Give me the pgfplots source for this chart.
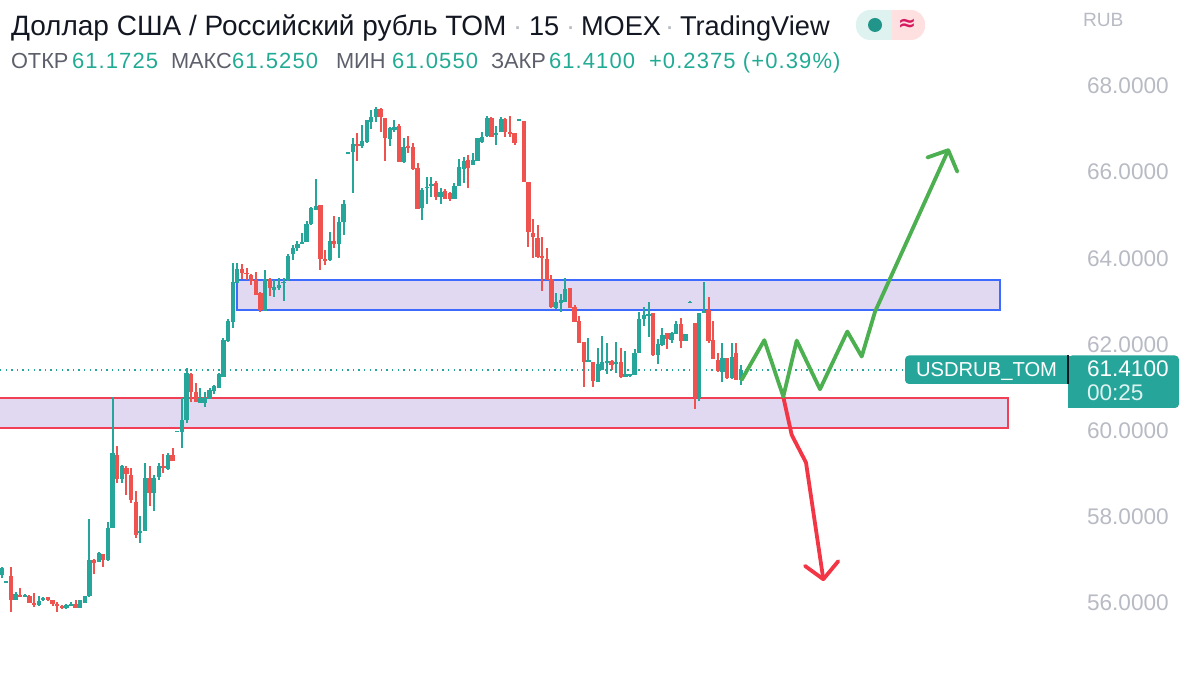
\documentclass[border=0pt]{standalone}
\usepackage{fontspec}
\setmainfont{Liberation Sans}
\newfontfamily\dejavu{DejaVu Sans}
\newfontfamily\spaced[LetterSpace=5]{Liberation Sans}
\usepackage{pgfplots}
\usepackage{pgfplotstable}
\pgfplotsset{compat=1.18}
\definecolor{upc}{HTML}{26A69A}
\definecolor{downc}{HTML}{EF5350}
\definecolor{zone}{HTML}{E1D9F1}
\definecolor{zblue}{HTML}{3D6BFF}
\definecolor{zred}{HTML}{F23F55}
\definecolor{pgreen}{HTML}{4CAF50}
\definecolor{pred}{HTML}{F23645}
\definecolor{axgray}{HTML}{B8BAC4}
\definecolor{txgray}{HTML}{5D606B}
\definecolor{txdark}{HTML}{131722}
\definecolor{valc}{HTML}{22AB94}
\pgfplotstableread{
i t b h l
0 56.81 56.64 56.84 56.57
1 56.50 56.48 56.52 56.46
3 56.21 56.07 56.26 56.06
5 56.19 56.15 56.21 56.13
8 56.05 55.95 56.17 55.94
9 56.12 56.06 56.15 56.05
14 55.95 55.89 55.97 55.87
15 55.97 55.95 56.03 55.93
17 56.06 55.89 56.07 55.88
18 56.16 56.01 56.17 56.00
19 57.00 56.15 57.94 56.13
21 57.15 56.94 57.19 56.94
23 57.73 57.00 57.89 56.98
24 59.48 57.73 60.79 57.73
26 59.17 58.87 59.20 58.78
30 57.68 57.62 58.01 57.39
31 58.91 57.68 59.24 57.66
33 58.90 58.56 58.97 58.14
34 59.18 58.92 59.24 58.86
36 59.44 59.10 59.49 59.09
38 59.99 59.97 60.00 59.96
39 60.25 59.96 60.75 59.59
40 61.34 60.25 61.45 60.18
43 60.76 60.64 60.99 60.64
44 60.76 60.64 60.90 60.55
45 60.94 60.73 60.99 60.73
46 61.04 60.92 61.06 60.85
47 61.31 60.99 61.34 60.99
48 62.10 61.24 62.15 61.24
49 62.55 62.08 62.59 62.06
50 63.45 62.52 63.89 62.38
51 63.75 63.43 63.89 63.43
57 63.52 62.78 63.73 62.78
59 63.33 63.26 63.50 63.10
60 63.38 63.31 63.54 63.26
61 63.45 63.43 63.54 63.01
62 64.05 63.50 64.10 63.47
63 64.24 64.10 64.31 63.96
64 64.33 64.24 64.40 64.17
65 64.38 64.33 64.59 64.33
66 64.80 64.38 64.87 64.38
67 65.17 64.80 65.19 64.77
68 65.21 65.12 65.84 65.12
71 64.40 63.96 64.61 63.94
73 64.84 64.33 64.96 64.01
74 65.26 64.84 65.35 64.54
75 66.47 66.44 66.47 66.44
76 66.65 66.47 66.79 65.52
78 66.72 66.61 67.09 66.56
79 67.21 66.70 67.21 66.68
80 67.28 67.16 67.44 67.00
81 67.47 67.28 67.51 67.16
84 67.02 66.77 67.05 66.61
85 67.05 66.98 67.21 66.93
87 66.58 66.24 66.79 66.21
91 65.59 65.17 65.63 64.89
92 65.66 65.63 65.89 65.26
93 65.73 65.68 65.89 65.42
95 65.54 65.42 65.63 65.26
98 65.68 65.38 65.75 65.38
99 66.12 65.68 66.31 65.68
100 66.26 66.07 66.35 65.75
102 66.28 66.17 66.44 66.17
103 66.79 66.26 66.79 66.26
104 66.82 66.70 66.93 66.68
105 67.26 66.84 67.30 66.82
107 66.91 66.86 67.07 66.63
108 67.23 66.93 67.28 66.93
112 67.23 67.21 67.23 67.19
120 62.99 62.85 63.19 62.82
121 63.03 62.96 63.17 62.75
122 63.29 62.99 63.54 62.99
127 61.64 61.59 62.15 61.59
129 61.55 61.13 61.92 61.13
130 61.59 61.41 62.20 61.41
131 61.62 61.59 62.03 61.31
133 61.59 61.55 62.06 61.34
135 61.31 61.24 61.85 61.24
136 61.31 61.27 61.31 61.24
137 61.80 61.29 61.90 61.29
138 62.59 61.80 62.75 61.80
139 62.68 62.59 62.87 62.43
140 62.71 62.66 62.99 62.17
142 62.01 61.76 62.13 61.55
143 62.22 61.99 62.38 61.96
145 62.27 62.10 62.29 62.03
146 62.48 62.24 62.55 62.24
148 62.24 62.08 62.24 62.08
149 62.99 62.97 63.01 62.96
151 62.73 60.76 62.73 60.69
152 62.78 62.73 63.45 62.73
156 61.69 61.36 62.03 61.13
158 61.71 61.22 62.03 61.20
160 61.41 61.1725 61.525 61.055
}\upcandles
\pgfplotstableread{
i t b h l
2 56.63 56.07 56.84 55.80
4 56.19 56.15 56.34 56.15
6 56.17 56.01 56.19 56.00
7 56.01 55.95 56.23 55.90
10 56.13 56.06 56.13 56.05
11 56.06 55.97 56.07 55.93
12 55.97 55.92 56.02 55.80
13 55.92 55.88 55.95 55.85
16 55.97 55.89 56.07 55.88
20 57.00 56.94 57.01 56.67
22 57.14 57.00 57.14 56.84
25 59.44 58.87 59.65 58.79
27 59.13 59.00 59.18 58.51
28 58.97 58.39 59.13 58.31
29 58.34 57.58 58.61 57.52
32 58.91 58.56 59.17 58.24
35 59.18 59.15 59.46 59.01
37 59.44 59.30 59.59 59.30
41 61.31 60.90 61.34 60.66
42 60.90 60.66 61.11 60.66
52 63.75 63.66 63.87 63.52
53 63.66 63.64 63.78 63.50
54 63.61 63.47 63.64 63.38
55 63.50 63.15 63.68 63.15
56 63.19 62.80 63.22 62.75
58 63.52 63.31 63.54 63.13
69 65.24 63.98 65.24 63.73
70 63.98 63.94 64.19 63.84
72 64.40 64.33 64.98 64.24
77 66.65 66.63 66.91 66.26
82 67.47 67.28 67.49 66.93
83 67.26 66.79 67.26 66.26
86 67.07 66.24 67.12 66.24
88 66.61 66.58 66.84 66.44
89 66.58 66.07 66.68 66.05
90 66.10 65.14 66.21 65.14
94 65.75 65.42 65.79 65.35
96 65.56 65.38 65.61 65.38
97 65.52 65.38 65.54 65.33
101 66.28 66.10 66.40 65.63
106 67.26 66.82 67.28 66.82
109 67.23 66.93 67.26 66.82
110 66.93 66.89 67.30 66.82
111 66.91 66.68 66.91 66.63
113 67.19 65.77 67.19 65.77
114 65.77 64.61 65.77 64.26
115 64.59 64.49 64.91 64.01
116 64.47 64.03 64.77 64.01
117 64.05 64.01 64.49 63.24
118 63.98 63.50 64.24 63.50
119 63.52 62.87 63.61 62.85
123 63.31 62.85 63.31 62.85
124 62.87 62.52 62.92 62.52
125 62.55 62.03 62.66 62.03
126 62.06 61.59 62.06 61.01
128 61.59 61.15 61.59 61.01
132 61.62 61.52 61.64 61.41
134 61.59 61.24 61.92 61.22
141 62.73 61.76 62.73 61.73
144 62.27 62.13 62.27 61.90
147 62.48 62.08 62.61 61.92
150 62.50 60.78 62.50 60.50
153 62.80 62.08 63.10 62.03
154 62.10 61.66 62.55 61.66
155 61.64 61.38 61.80 61.36
157 61.69 61.22 61.69 61.20
159 61.80 61.18 62.03 61.18
}\downcandles
\newcommand\candles[2]{%
  \addplot[forget plot,draw=none,no markers,
    error bars/.cd,y dir=both,y explicit,error mark=none,
    error bar style={line width=1pt,color=#2}]
    table[x=i,y expr={(\thisrow{h}+\thisrow{l})/2},y error expr={(\thisrow{h}-\thisrow{l})/2}]{#1};
  \addplot[forget plot,draw=none,no markers,
    error bars/.cd,y dir=both,y explicit,error mark=none,
    error bar style={line width=2.15pt,color=#2}]
    table[x=i,y expr={(\thisrow{t}+\thisrow{b})/2},y error expr={(\thisrow{t}-\thisrow{b})/2}]{#1};
}
\begin{document}
\begin{tikzpicture}
\useasboundingbox (0,0) rectangle (600pt,337pt);
\begin{axis}[
  at={(0,0)},anchor=south west,
  scale only axis,width=540pt,height=337pt,
  xmin=-0.368,xmax=233.4,ymin=54.351,ymax=69.996,
  xtick=\empty,
  ytick={56,58,60,62,64,66,68},
  yticklabel pos=right,
  axis line style={draw=none},
  tick style={draw=none},
  yticklabel style={
    /pgf/number format/fixed,/pgf/number format/fixed zerofill,
    /pgf/number format/precision=4,/pgf/number format/assume math mode=true,
    font=\fontsize{11.3pt}{12pt}\selectfont,color=axgray,anchor=west,xshift=0pt},
]
\addplot[forget plot,fill=zone,draw=zred,line width=0.75pt] coordinates {(-2,60.76) (217.8,60.76) (217.8,60.06) (-2,60.06)} --cycle;
\addplot[forget plot,fill=zone,draw=zblue,line width=0.75pt] coordinates {(50.93,63.50) (216.1,63.50) (216.1,62.80) (50.93,62.80)} --cycle;
\addplot[forget plot,color=upc,line width=0.7pt,dash pattern=on 0.7pt off 2.1pt] coordinates {(-0.368,61.41) (195.3,61.41)};
\candles{\downcandles}{downc}
\candles{\upcandles}{upc}
\addplot[forget plot,pred,line width=1.9pt,line join=round,line cap=round] coordinates {(169.18,60.78) (171.0,59.90) (174.09,59.26) (177.84,56.55)};
\addplot[forget plot,pred,line width=1.9pt,line join=round,line cap=round] coordinates {(173.87,56.86) (177.84,56.55) (181.08,56.97)};
\addplot[forget plot,pgreen,line width=1.9pt,line join=round,line cap=round] coordinates {(160.17,61.18) (165.07,62.10) (169.18,60.79) (172.08,62.09) (177.12,60.96) (183.03,62.30) (186.15,61.72) (189.03,62.76) (204.89,66.51)};
\addplot[forget plot,pgreen,line width=1.9pt,line join=round,line cap=round] coordinates {(200.35,66.34) (204.89,66.51) (206.84,66.01)};
\end{axis}
\begin{scope}[x=0.5pt,y=-0.5pt,yshift=337pt,every node/.style={inner sep=0pt,outer sep=0pt,anchor=base west}]
\def\tf{\fontsize{13.6pt}{15pt}\selectfont}
\def\sf{\fontsize{10.9pt}{12pt}\selectfont}
\def\vf{\spaced\fontsize{11pt}{12pt}\selectfont}
\node[color=txdark,font=\fontsize{14pt}{15pt}\selectfont] at (11,36) {Доллар США / Российский рубль ТОМ};
\node[color=axgray,font=\tf] at (513,36) {·};
\node[color=txdark,font=\tf] at (529,36) {15};
\node[color=axgray,font=\tf] at (566,36) {·};
\node[color=txdark,font=\tf] at (581,36) {MOEX};
\node[color=axgray,font=\tf] at (665,36) {·};
\node[color=txdark,font=\tf] at (680,36) {TradingView};
\node[color=txgray,font=\sf] at (11,69) {ОТКР};
\node[color=valc,font=\vf] at (72,69) {61.1725};
\node[color=txgray,font=\sf] at (171,69) {МАКС};
\node[color=valc,font=\vf] at (232,69) {61.5250};
\node[color=txgray,font=\sf] at (336,69) {МИН};
\node[color=valc,font=\vf] at (392,69) {61.0550};
\node[color=txgray,font=\sf] at (491,69) {ЗАКР};
\node[color=valc,font=\vf] at (549,69) {61.4100};
\node[color=valc,font=\vf] at (649,69) {+0.2375 (+0.39\%)};
% status pill
\fill[color=red!12!white,rounded corners=7pt] (885,10) rectangle (925,40);
\fill[color=upc!15!white,rounded corners=7pt] (856,10) rectangle (895,40);
\fill[color=upc!15!white] (880,10) rectangle (892,40);
\fill[color=red!12!white] (892,10) rectangle (900,40);
\fill[color=upc!90!black] (875,25) circle (3.5pt);
\node[color={rgb,255:red,216;green,27;blue,96},font=\dejavu\bfseries\fontsize{11pt}{12pt}\selectfont,anchor=center] at (907,25) {≈};
\node[color=axgray,font=\fontsize{9.6pt}{11pt}\selectfont] at (1083,27) {RUB};
% price tag
\fill[color=upc,rounded corners=2pt] (905,355.5) rectangle (1072,384);
\fill[color=upc,rounded corners=2pt] (1068,355.5) rectangle (1179,408);
\fill[color=upc] (1068,370) rectangle (1074,408);
\fill[color=txdark] (1067,355.5) rectangle (1069,384);
\node[color=white,font=\fontsize{10.1pt}{12pt}\selectfont] at (916,377) {USDRUB\_TOM};
\node[color=white,font=\fontsize{11.3pt}{12pt}\selectfont] at (1087,377) {61.4100};
\node[color=white!85!upc,font=\fontsize{11.3pt}{12pt}\selectfont] at (1087,401) {00:25};
\end{scope}
\end{tikzpicture}
\end{document}
